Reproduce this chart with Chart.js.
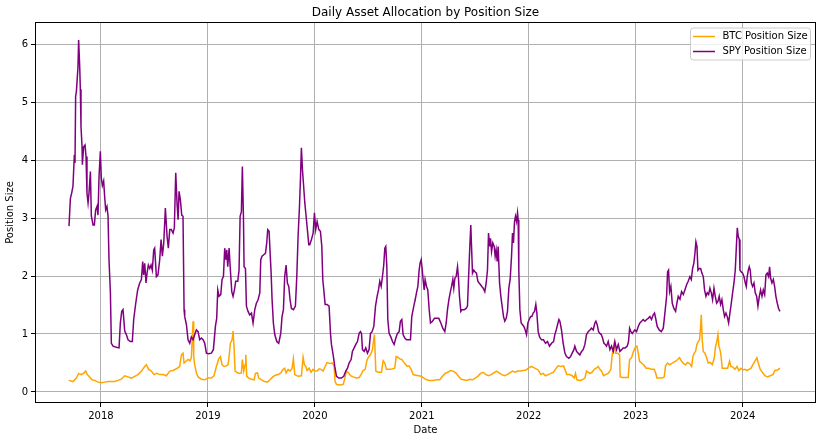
<!DOCTYPE html>
<html>
<head>
<meta charset="utf-8">
<script src="https://cdn.jsdelivr.net/npm/chart.js@4.4.1/dist/chart.umd.min.js"></script>
<style>
  html, body { margin: 0; padding: 0; background: #fff; }
  #wrap { width: 822px; height: 441px; }
</style>
</head>
<body>
<div id="wrap"><canvas id="chart" width="822" height="441"></canvas></div>
<script>
// dates are decimal years
const btcYears = [
  2017.698, 2017.738, 2017.770, 2017.791, 2017.816, 2017.841, 2017.857, 2017.872, 2017.894, 2017.916,
  2017.941, 2017.972, 2018.003, 2018.035, 2018.066, 2018.097, 2018.128, 2018.159, 2018.190, 2018.222,
  2018.253, 2018.284, 2018.315, 2018.346, 2018.378, 2018.409, 2018.424, 2018.446, 2018.471, 2018.496,
  2018.521, 2018.549, 2018.580, 2018.611, 2018.643, 2018.674, 2018.705, 2018.736, 2018.752, 2018.767,
  2018.777, 2018.795, 2018.814, 2018.833, 2018.845, 2018.861, 2018.867, 2018.876, 2018.892, 2018.908,
  2018.939, 2018.970, 2019.001, 2019.032, 2019.057, 2019.079, 2019.101, 2019.117, 2019.132, 2019.151,
  2019.173, 2019.188, 2019.198, 2019.210, 2019.226, 2019.235, 2019.244, 2019.254, 2019.276, 2019.297,
  2019.313, 2019.322, 2019.335, 2019.347, 2019.354, 2019.363, 2019.382, 2019.406, 2019.432, 2019.444,
  2019.463, 2019.475, 2019.500, 2019.531, 2019.556, 2019.581, 2019.606, 2019.631, 2019.656, 2019.681,
  2019.703, 2019.718, 2019.731, 2019.750, 2019.768, 2019.787, 2019.799, 2019.812, 2019.843, 2019.874,
  2019.890, 2019.902, 2019.915, 2019.927, 2019.946, 2019.965, 2019.983, 2020.002, 2020.021, 2020.040,
  2020.058, 2020.077, 2020.096, 2020.114, 2020.139, 2020.164, 2020.180, 2020.189, 2020.202, 2020.233,
  2020.264, 2020.277, 2020.295, 2020.314, 2020.333, 2020.358, 2020.389, 2020.414, 2020.432, 2020.451,
  2020.470, 2020.489, 2020.504, 2020.520, 2020.538, 2020.557, 2020.570, 2020.591, 2020.623, 2020.638,
  2020.654, 2020.669, 2020.707, 2020.747, 2020.760, 2020.775, 2020.794, 2020.813, 2020.832, 2020.850,
  2020.863, 2020.881, 2020.900, 2020.919, 2020.944, 2020.969, 2020.994, 2021.019, 2021.044, 2021.075,
  2021.106, 2021.137, 2021.168, 2021.193, 2021.218, 2021.243, 2021.268, 2021.293, 2021.318, 2021.343,
  2021.368, 2021.393, 2021.418, 2021.449, 2021.474, 2021.499, 2021.524, 2021.549, 2021.574, 2021.599,
  2021.623, 2021.648, 2021.673, 2021.698, 2021.723, 2021.748, 2021.773, 2021.798, 2021.823, 2021.848,
  2021.873, 2021.898, 2021.923, 2021.948, 2021.973, 2021.998, 2022.023, 2022.048, 2022.088, 2022.113,
  2022.135, 2022.157, 2022.182, 2022.207, 2022.232, 2022.257, 2022.275, 2022.300, 2022.325, 2022.344,
  2022.356, 2022.381, 2022.406, 2022.425, 2022.437, 2022.450, 2022.475, 2022.500, 2022.525, 2022.540,
  2022.556, 2022.575, 2022.593, 2022.612, 2022.631, 2022.649, 2022.665, 2022.681, 2022.699, 2022.718,
  2022.743, 2022.768, 2022.780, 2022.799, 2022.812, 2022.830, 2022.849, 2022.855, 2022.880, 2022.905,
  2022.930, 2022.943, 2022.961, 2022.980, 2022.999, 2023.011, 2023.024, 2023.036, 2023.055, 2023.074,
  2023.098, 2023.123, 2023.148, 2023.173, 2023.186, 2023.198, 2023.223, 2023.248, 2023.267, 2023.279,
  2023.298, 2023.317, 2023.335, 2023.354, 2023.373, 2023.392, 2023.410, 2023.429, 2023.448, 2023.466,
  2023.485, 2023.504, 2023.523, 2023.535, 2023.547, 2023.560, 2023.572, 2023.585, 2023.597, 2023.607,
  2023.613, 2023.622, 2023.632, 2023.647, 2023.663, 2023.678, 2023.697, 2023.716, 2023.735, 2023.747,
  2023.759, 2023.769, 2023.778, 2023.788, 2023.797, 2023.809, 2023.834, 2023.859, 2023.878, 2023.890,
  2023.909, 2023.928, 2023.947, 2023.965, 2023.984, 2024.003, 2024.021, 2024.040, 2024.059, 2024.078,
  2024.096, 2024.115, 2024.134, 2024.146, 2024.165, 2024.184, 2024.208, 2024.233, 2024.258, 2024.283,
  2024.302, 2024.327, 2024.349
];
const btcSizes = [
  0.20, 0.18, 0.24, 0.32, 0.30, 0.33, 0.36, 0.30, 0.26, 0.21,
  0.20, 0.17, 0.16, 0.17, 0.18, 0.18, 0.18, 0.20, 0.22, 0.28,
  0.26, 0.24, 0.27, 0.30, 0.36, 0.44, 0.47, 0.39, 0.36, 0.30,
  0.32, 0.30, 0.30, 0.28, 0.36, 0.37, 0.40, 0.44, 0.64, 0.67,
  0.50, 0.53, 0.56, 0.54, 0.59, 1.22, 0.61, 0.47, 0.33, 0.26,
  0.22, 0.21, 0.24, 0.24, 0.28, 0.44, 0.57, 0.61, 0.47, 0.44,
  0.45, 0.47, 0.61, 0.84, 0.90, 1.05, 0.79, 0.36, 0.33, 0.32,
  0.33, 0.56, 0.36, 0.47, 0.64, 0.27, 0.24, 0.22, 0.21, 0.32,
  0.33, 0.24, 0.21, 0.18, 0.17, 0.21, 0.26, 0.29, 0.30, 0.33,
  0.39, 0.41, 0.33, 0.39, 0.36, 0.41, 0.57, 0.30, 0.27, 0.28,
  0.60, 0.47, 0.44, 0.37, 0.41, 0.34, 0.39, 0.36, 0.36, 0.40,
  0.39, 0.36, 0.44, 0.51, 0.49, 0.50, 0.44, 0.18, 0.13, 0.12,
  0.13, 0.21, 0.36, 0.33, 0.28, 0.26, 0.24, 0.25, 0.30, 0.37,
  0.39, 0.56, 0.61, 0.64, 0.73, 0.99, 0.36, 0.34, 0.34, 0.54,
  0.50, 0.39, 0.39, 0.41, 0.61, 0.60, 0.57, 0.56, 0.51, 0.47,
  0.44, 0.45, 0.39, 0.30, 0.29, 0.28, 0.27, 0.24, 0.21, 0.20,
  0.20, 0.21, 0.21, 0.27, 0.32, 0.34, 0.37, 0.36, 0.33, 0.27,
  0.22, 0.21, 0.20, 0.22, 0.21, 0.24, 0.27, 0.32, 0.34, 0.30,
  0.28, 0.30, 0.33, 0.36, 0.33, 0.30, 0.28, 0.30, 0.33, 0.36,
  0.34, 0.36, 0.36, 0.37, 0.38, 0.41, 0.44, 0.42, 0.38, 0.30,
  0.32, 0.28, 0.30, 0.32, 0.34, 0.41, 0.45, 0.44, 0.45, 0.36,
  0.30, 0.30, 0.28, 0.24, 0.32, 0.21, 0.20, 0.21, 0.24, 0.36,
  0.34, 0.32, 0.34, 0.39, 0.41, 0.44, 0.39, 0.36, 0.28, 0.30,
  0.32, 0.39, 0.64, 0.84, 0.67, 0.67, 0.64, 0.26, 0.25, 0.25,
  0.25, 0.56, 0.59, 0.70, 0.78, 0.79, 0.67, 0.53, 0.50, 0.47,
  0.41, 0.41, 0.39, 0.39, 0.33, 0.24, 0.24, 0.24, 0.26, 0.45,
  0.50, 0.47, 0.49, 0.51, 0.53, 0.56, 0.59, 0.53, 0.49, 0.47,
  0.51, 0.49, 0.44, 0.61, 0.67, 0.70, 0.82, 0.87, 0.90, 1.13,
  1.33, 0.90, 0.70, 0.67, 0.59, 0.50, 0.51, 0.47, 0.59, 0.79,
  0.87, 0.99, 0.79, 0.73, 0.64, 0.41, 0.41, 0.41, 0.53, 0.44,
  0.43, 0.39, 0.44, 0.37, 0.41, 0.38, 0.39, 0.37, 0.39, 0.41,
  0.47, 0.53, 0.59, 0.50, 0.39, 0.34, 0.28, 0.26, 0.28, 0.30,
  0.37, 0.38, 0.41
];
const spyYears = [
  2017.701, 2017.714, 2017.726, 2017.738, 2017.751, 2017.757, 2017.763, 2017.770, 2017.785, 2017.791,
  2017.801, 2017.807, 2017.813, 2017.823, 2017.826, 2017.838, 2017.851, 2017.860, 2017.869, 2017.879,
  2017.888, 2017.901, 2017.910, 2017.926, 2017.938, 2017.950, 2017.963, 2017.972, 2017.982, 2017.994,
  2018.003, 2018.013, 2018.025, 2018.035, 2018.044, 2018.056, 2018.066, 2018.075, 2018.088, 2018.097,
  2018.113, 2018.144, 2018.169, 2018.181, 2018.194, 2018.206, 2018.222, 2018.237, 2018.253, 2018.275,
  2018.293, 2018.306, 2018.325, 2018.343, 2018.362, 2018.378, 2018.390, 2018.399, 2018.409, 2018.421,
  2018.431, 2018.443, 2018.456, 2018.468, 2018.480, 2018.493, 2018.502, 2018.518, 2018.533, 2018.549,
  2018.562, 2018.574, 2018.587, 2018.602, 2018.618, 2018.630, 2018.643, 2018.658, 2018.674, 2018.686,
  2018.699, 2018.711, 2018.721, 2018.730, 2018.742, 2018.755, 2018.767, 2018.777, 2018.783, 2018.799,
  2018.814, 2018.830, 2018.845, 2018.861, 2018.877, 2018.892, 2018.908, 2018.923, 2018.939, 2018.955,
  2018.970, 2018.986, 2019.008, 2019.032, 2019.051, 2019.070, 2019.082, 2019.092, 2019.104, 2019.120,
  2019.132, 2019.145, 2019.157, 2019.167, 2019.176, 2019.185, 2019.198, 2019.210, 2019.223, 2019.235,
  2019.248, 2019.260, 2019.279, 2019.291, 2019.301, 2019.313, 2019.322, 2019.332, 2019.338, 2019.351,
  2019.360, 2019.375, 2019.391, 2019.407, 2019.422, 2019.438, 2019.453, 2019.469, 2019.485, 2019.494,
  2019.506, 2019.525, 2019.538, 2019.550, 2019.559, 2019.572, 2019.581, 2019.591, 2019.600, 2019.612,
  2019.625, 2019.644, 2019.662, 2019.681, 2019.693, 2019.706, 2019.718, 2019.731, 2019.743, 2019.756,
  2019.768, 2019.781, 2019.800, 2019.818, 2019.831, 2019.843, 2019.856, 2019.865, 2019.874, 2019.884,
  2019.893, 2019.906, 2019.918, 2019.930, 2019.943, 2019.952, 2019.968, 2019.984, 2019.996, 2020.008,
  2020.021, 2020.037, 2020.052, 2020.065, 2020.074, 2020.086, 2020.096, 2020.114, 2020.133, 2020.146,
  2020.155, 2020.171, 2020.186, 2020.202, 2020.224, 2020.248, 2020.270, 2020.289, 2020.305, 2020.320,
  2020.339, 2020.351, 2020.367, 2020.383, 2020.398, 2020.414, 2020.426, 2020.436, 2020.445, 2020.461,
  2020.476, 2020.492, 2020.507, 2020.520, 2020.535, 2020.551, 2020.567, 2020.582, 2020.595, 2020.607,
  2020.620, 2020.632, 2020.644, 2020.654, 2020.663, 2020.673, 2020.682, 2020.694, 2020.710, 2020.726,
  2020.741, 2020.757, 2020.772, 2020.788, 2020.800, 2020.813, 2020.825, 2020.841, 2020.857, 2020.875,
  2020.894, 2020.906, 2020.925, 2020.938, 2020.950, 2020.963, 2020.975, 2020.984, 2020.994, 2021.003,
  2021.012, 2021.022, 2021.031, 2021.044, 2021.056, 2021.069, 2021.081, 2021.100, 2021.118, 2021.137,
  2021.159, 2021.178, 2021.196, 2021.215, 2021.228, 2021.240, 2021.253, 2021.265, 2021.278, 2021.290,
  2021.299, 2021.309, 2021.321, 2021.334, 2021.343, 2021.352, 2021.365, 2021.377, 2021.396, 2021.415,
  2021.427, 2021.440, 2021.449, 2021.458, 2021.465, 2021.474, 2021.486, 2021.499, 2021.511, 2021.524,
  2021.536, 2021.549, 2021.561, 2021.574, 2021.589, 2021.602, 2021.614, 2021.624, 2021.633, 2021.642,
  2021.652, 2021.664, 2021.677, 2021.686, 2021.695, 2021.705, 2021.714, 2021.727, 2021.739, 2021.751,
  2021.764, 2021.776, 2021.789, 2021.801, 2021.814, 2021.826, 2021.839, 2021.848, 2021.857, 2021.867,
  2021.876, 2021.886, 2021.895, 2021.901, 2021.907, 2021.917, 2021.929, 2021.942, 2021.954, 2021.967,
  2021.979, 2021.992, 2022.004, 2022.017, 2022.029, 2022.041, 2022.054, 2022.066, 2022.076, 2022.088,
  2022.101, 2022.119, 2022.138, 2022.157, 2022.175, 2022.194, 2022.213, 2022.232, 2022.244, 2022.257,
  2022.269, 2022.282, 2022.291, 2022.306, 2022.322, 2022.338, 2022.353, 2022.375, 2022.391, 2022.406,
  2022.422, 2022.431, 2022.447, 2022.462, 2022.478, 2022.494, 2022.509, 2022.525, 2022.540, 2022.556,
  2022.572, 2022.587, 2022.603, 2022.618, 2022.628, 2022.640, 2022.653, 2022.665, 2022.678, 2022.690,
  2022.703, 2022.715, 2022.727, 2022.743, 2022.759, 2022.774, 2022.790, 2022.805, 2022.821, 2022.837,
  2022.852, 2022.868, 2022.883, 2022.902, 2022.921, 2022.933, 2022.943, 2022.955, 2022.968, 2022.980,
  2022.992, 2023.008, 2023.024, 2023.039, 2023.055, 2023.070, 2023.086, 2023.102, 2023.117, 2023.133,
  2023.148, 2023.164, 2023.176, 2023.189, 2023.201, 2023.220, 2023.239, 2023.258, 2023.273, 2023.289,
  2023.298, 2023.307, 2023.317, 2023.329, 2023.342, 2023.357, 2023.373, 2023.385, 2023.398, 2023.414,
  2023.429, 2023.445, 2023.460, 2023.476, 2023.491, 2023.507, 2023.520, 2023.532, 2023.544, 2023.554,
  2023.563, 2023.573, 2023.582, 2023.594, 2023.607, 2023.619, 2023.632, 2023.644, 2023.657, 2023.669,
  2023.682, 2023.694, 2023.707, 2023.719, 2023.732, 2023.744, 2023.757, 2023.769, 2023.781, 2023.794,
  2023.806, 2023.819, 2023.831, 2023.844, 2023.856, 2023.869, 2023.881, 2023.894, 2023.906, 2023.919,
  2023.931, 2023.940, 2023.950, 2023.959, 2023.969, 2023.975, 2023.987, 2024.000, 2024.012, 2024.025,
  2024.034, 2024.043, 2024.053, 2024.062, 2024.071, 2024.081, 2024.093, 2024.106, 2024.118, 2024.131,
  2024.143, 2024.156, 2024.168, 2024.181, 2024.193, 2024.206, 2024.218, 2024.230, 2024.243, 2024.252,
  2024.262, 2024.274, 2024.287, 2024.299, 2024.311, 2024.324, 2024.336, 2024.349
];
const spySizes = [
  2.86, 3.34, 3.43, 3.55, 4.09, 3.95, 5.10, 5.18, 5.61, 6.07,
  5.61, 5.22, 4.58, 4.23, 3.92, 4.23, 4.26, 4.06, 3.43, 3.26,
  3.43, 3.80, 3.03, 2.88, 2.88, 3.14, 3.20, 3.05, 3.72, 4.15,
  3.69, 3.56, 3.64, 3.35, 3.14, 3.20, 3.03, 2.28, 1.71, 0.84,
  0.79, 0.77, 0.76, 1.19, 1.39, 1.42, 1.05, 0.99, 0.90, 0.87,
  0.87, 1.25, 1.53, 1.76, 1.88, 1.94, 2.25, 2.02, 2.22, 1.88,
  2.05, 2.19, 2.13, 2.19, 2.10, 2.45, 2.48, 1.99, 2.02, 2.28,
  2.63, 2.34, 2.57, 3.17, 2.68, 2.48, 2.80, 2.80, 2.74, 2.83,
  3.78, 3.26, 2.97, 3.46, 3.32, 3.05, 3.03, 1.42, 1.30, 1.16,
  0.90, 0.84, 0.95, 0.90, 0.99, 1.07, 1.04, 0.90, 0.93, 0.90,
  0.84, 0.67, 0.66, 0.67, 0.73, 1.13, 1.27, 1.76, 1.65, 1.68,
  1.94, 1.99, 2.48, 2.28, 2.45, 2.16, 2.48, 2.10, 1.73, 1.65,
  1.76, 1.91, 1.91, 2.10, 3.03, 3.11, 3.89, 3.03, 2.16, 2.13,
  1.48, 1.39, 1.33, 1.36, 1.19, 1.42, 1.53, 1.59, 1.71, 2.28,
  2.34, 2.37, 2.39, 2.57, 2.80, 2.77, 2.42, 2.05, 1.59, 1.19,
  0.99, 0.87, 0.84, 1.01, 1.30, 1.42, 1.99, 2.19, 1.88, 1.82,
  1.59, 1.44, 1.42, 1.48, 1.99, 2.68, 3.20, 3.66, 4.21, 3.83,
  3.60, 3.26, 3.03, 2.80, 2.54, 2.54, 2.63, 2.74, 3.09, 2.80,
  2.94, 2.80, 2.77, 2.51, 1.94, 1.71, 1.51, 1.51, 1.48, 1.01,
  0.82, 0.64, 0.44, 0.27, 0.24, 0.24, 0.27, 0.36, 0.41, 0.50,
  0.56, 0.70, 0.76, 0.82, 0.87, 1.01, 1.04, 1.01, 0.73, 0.70,
  0.76, 0.67, 0.73, 1.01, 1.04, 1.13, 1.48, 1.65, 1.76, 1.91,
  1.82, 1.99, 2.19, 2.48, 2.51, 2.16, 1.25, 1.01, 0.95, 0.87,
  0.82, 0.93, 1.01, 1.04, 1.22, 1.25, 0.99, 0.93, 0.90, 0.90,
  0.90, 1.30, 1.48, 1.59, 1.71, 1.82, 2.10, 2.22, 2.28, 2.13,
  1.94, 1.76, 1.94, 1.82, 1.76, 1.42, 1.19, 1.22, 1.27, 1.27,
  1.27, 1.19, 1.10, 1.04, 1.19, 1.42, 1.59, 1.71, 1.82, 1.94,
  1.79, 1.96, 1.99, 2.16, 1.96, 1.65, 1.39, 1.42, 1.42, 1.44,
  1.48, 2.10, 2.51, 2.88, 2.51, 2.05, 2.10, 2.07, 2.05, 1.91,
  1.88, 1.85, 1.82, 1.79, 1.73, 1.88, 2.10, 2.74, 2.51, 2.65,
  2.42, 2.57, 2.51, 2.34, 2.45, 2.25, 2.51, 1.88, 1.65, 1.48,
  1.30, 1.22, 1.27, 1.39, 1.79, 1.94, 2.34, 2.74, 2.57, 2.94,
  3.03, 2.94, 3.09, 2.97, 2.10, 1.42, 1.19, 1.16, 1.13, 1.07,
  0.99, 1.19, 1.25, 1.30, 1.30, 1.36, 1.39, 1.51, 1.36, 1.04,
  0.95, 0.90, 0.90, 0.84, 0.87, 0.79, 0.84, 0.87, 0.99, 1.07,
  1.16, 1.25, 1.22, 1.07, 0.84, 0.67, 0.61, 0.58, 0.61, 0.67,
  0.73, 0.79, 0.70, 0.67, 0.64, 0.70, 0.73, 0.82, 0.99, 1.04,
  1.07, 1.10, 1.07, 1.19, 1.22, 1.16, 1.04, 1.01, 0.99, 0.93,
  0.84, 0.82, 0.79, 0.87, 0.73, 0.79, 0.70, 0.87, 0.73, 0.82,
  0.70, 0.73, 0.76, 0.76, 0.79, 0.87, 1.10, 1.04, 1.01, 1.04,
  1.07, 1.04, 1.13, 1.19, 1.22, 1.25, 1.22, 1.25, 1.27, 1.30,
  1.25, 1.33, 1.36, 1.25, 1.13, 1.07, 1.04, 1.10, 1.36, 1.65,
  2.07, 2.10, 1.73, 1.82, 1.53, 1.44, 1.39, 1.53, 1.65, 1.60,
  1.73, 1.68, 1.76, 1.85, 1.91, 1.99, 1.94, 2.13, 2.22, 2.39,
  2.59, 2.51, 2.10, 2.13, 2.13, 2.05, 1.99, 1.76, 1.65, 1.71,
  1.68, 1.79, 1.71, 1.59, 1.79, 1.65, 1.53, 1.56, 1.65, 1.51,
  1.59, 1.42, 1.30, 1.36, 1.30, 1.19, 1.36, 1.53, 1.71, 1.88,
  2.10, 2.45, 2.83, 2.68, 2.63, 2.10, 2.07, 2.05, 1.99, 1.88,
  1.82, 1.99, 2.10, 2.16, 2.10, 1.88, 1.82, 1.88, 1.71, 1.65,
  1.48, 1.65, 1.76, 1.65, 1.76, 1.68, 2.02, 2.05, 1.99, 2.16,
  1.96, 1.88, 1.94, 1.82, 1.65, 1.53, 1.44, 1.39
];
const yearTicks = [2018, 2019, 2020, 2021, 2022, 2023, 2024];
const sizeTicks = [0, 1, 2, 3, 4, 5, 6];
const chartTitle = 'Daily Asset Allocation by Position Size';
const seriesNames = ['BTC Position Size', 'SPY Position Size'];
const seriesColors = ['#ffa500', '#800080'];

Chart.defaults.font.family = '"DejaVu Sans", sans-serif';
Chart.defaults.font.size = 10;
Chart.defaults.color = '#000';

const toPoints = (xs, ys) => xs.map((x, i) => ({ x: x, y: ys[i] }));

// title, box around the axes and the legend, drawn like matplotlib does
const mplExtras = {
  id: 'mplExtras',
  afterDraw(chart) {
    const ctx = chart.ctx;
    const a = chart.chartArea;
    ctx.save();
    ctx.strokeStyle = '#000';
    ctx.lineWidth = 1;
    ctx.strokeRect(a.left + 0.5, a.top + 0.5, a.right - a.left - 1, a.bottom - a.top - 1);

    ctx.fillStyle = '#000';
    ctx.font = '12px "DejaVu Sans", sans-serif';
    ctx.textAlign = 'center';
    ctx.textBaseline = 'middle';
    ctx.fillText(chartTitle, (a.left + a.right) / 2, 13);

    // legend
    const bx = 690.5, by = 28, bw = 120, bh = 32;
    ctx.beginPath();
    ctx.roundRect(bx, by, bw, bh, 3);
    ctx.fillStyle = 'rgba(255,255,255,0.8)';
    ctx.fill();
    ctx.strokeStyle = '#cccccc';
    ctx.stroke();
    ctx.font = '10px "DejaVu Sans", sans-serif';
    ctx.textAlign = 'left';
    seriesNames.forEach((name, i) => {
      const yy = 36.5 + i * 15;
      ctx.strokeStyle = seriesColors[i];
      ctx.lineWidth = 1.5;
      ctx.beginPath();
      ctx.moveTo(693, yy);
      ctx.lineTo(715, yy);
      ctx.stroke();
      ctx.fillStyle = '#000';
      ctx.fillText(name, 722.5, yy);
    });
    ctx.restore();
  }
};

new Chart(document.getElementById('chart'), {
  type: 'line',
  data: {
    datasets: [
      {
        label: seriesNames[0],
        data: toPoints(btcYears, btcSizes),
        borderColor: seriesColors[0],
        borderWidth: 1.5,
        pointRadius: 0,
        tension: 0,
        order: 2
      },
      {
        label: seriesNames[1],
        data: toPoints(spyYears, spySizes),
        borderColor: seriesColors[1],
        borderWidth: 1.5,
        pointRadius: 0,
        tension: 0,
        order: 1
      }
    ]
  },
  options: {
    responsive: false,
    animation: false,
    events: [],
    layout: { padding: { top: 22, right: 6, left: 0, bottom: 0 } },
    plugins: {
      legend: { display: false },
      title: { display: false },
      tooltip: { enabled: false }
    },
    scales: {
      x: {
        type: 'linear',
        min: 2017.383,
        max: 2024.686,
        afterBuildTicks: s => { s.ticks = yearTicks.map(v => ({ value: v })); },
        afterFit: s => { s.height = 38; },
        border: { display: false },
        grid: { color: '#b0b0b0', lineWidth: 1, tickColor: '#000', tickLength: 4 },
        ticks: { padding: 3, maxRotation: 0, autoSkip: false, callback: v => String(v) },
        title: { display: true, text: 'Date', padding: { top: 0, bottom: 5 } }
      },
      y: {
        min: -0.19,
        max: 6.38,
        afterBuildTicks: s => { s.ticks = sizeTicks.map(v => ({ value: v })); },
        afterFit: s => { s.width = 35; },
        border: { display: false },
        grid: { color: '#b0b0b0', lineWidth: 1, tickColor: '#000', tickLength: 4 },
        ticks: { padding: 3, autoSkip: false, callback: v => String(v) },
        title: { display: true, text: 'Position Size', padding: { top: 4, bottom: 0 } }
      }
    }
  },
  plugins: [mplExtras]
});
</script>
</body>
</html>
